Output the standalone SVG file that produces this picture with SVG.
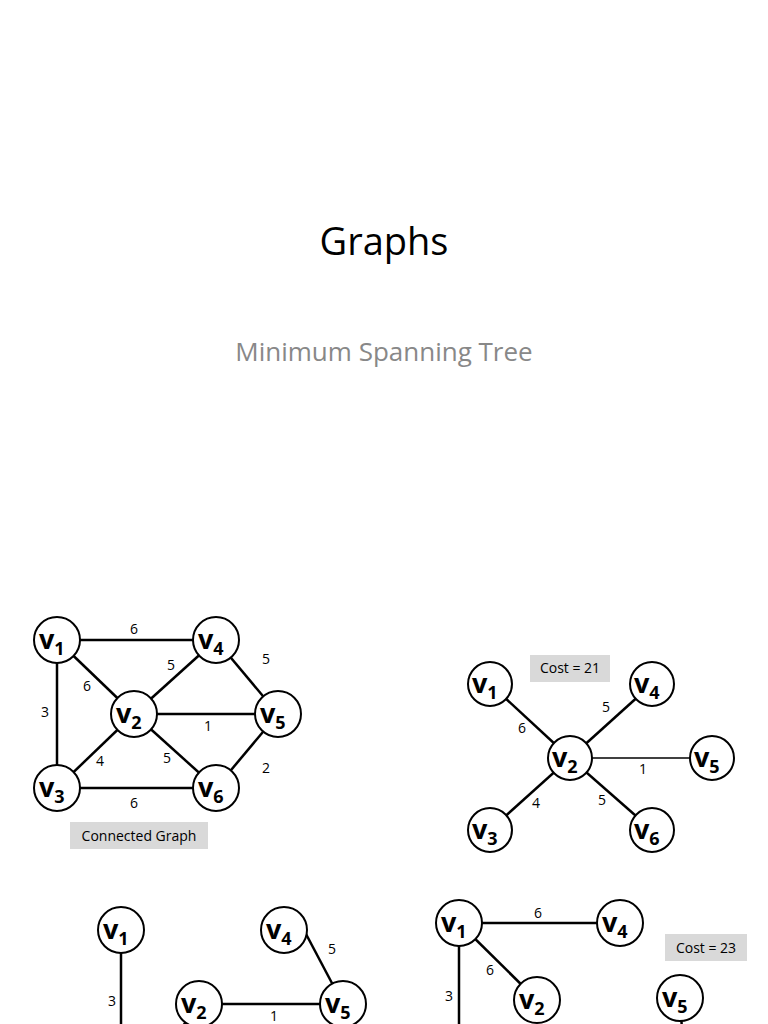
<svg xmlns="http://www.w3.org/2000/svg" width="768" height="1024" viewBox="0 0 768 1024">
<style>
.n circle{fill:#fff;stroke:#000;stroke-width:2}
.v{font-family:"Open Sans","Liberation Sans",sans-serif;font-weight:bold;font-size:27px;fill:#000}
.s{font-size:18px}
.e line{stroke:#000;stroke-width:2.5}
.w{font-family:"Open Sans","Liberation Sans",sans-serif;font-size:14px;fill:#000;text-anchor:middle}
.box{fill:#d9d9d9}
</style>
<rect width="768" height="1024" fill="#fff"/>
<text x="384" y="255" text-anchor="middle" font-family="Open Sans, Liberation Sans, sans-serif" font-size="38" fill="#000">Graphs</text>
<text x="384" y="361" text-anchor="middle" font-family="Open Sans, Liberation Sans, sans-serif" font-size="26" fill="#888">Minimum Spanning Tree</text>
<g class="e" id="connectors">
<line x1="57" y1="640" x2="216" y2="640"/><line x1="57" y1="640" x2="134" y2="714"/><line x1="57" y1="640" x2="57" y2="788"/>
<line x1="216" y1="640" x2="134" y2="714"/><line x1="216" y1="640" x2="278" y2="714"/><line x1="134" y1="714" x2="278" y2="714"/>
<line x1="134" y1="714" x2="57" y2="788"/><line x1="134" y1="714" x2="216" y2="788"/><line x1="57" y1="788" x2="216" y2="788"/><line x1="278" y1="714" x2="216" y2="788"/>
<line x1="490" y1="684" x2="570" y2="758"/><line x1="652" y1="684" x2="570" y2="758"/><line x1="712" y1="758" x2="570" y2="758" style="stroke-width:1.5"/><line x1="490" y1="830" x2="570" y2="758"/><line x1="652" y1="830" x2="570" y2="758"/>
<line x1="121" y1="930" x2="121" y2="1030"/><line x1="199" y1="1004" x2="343" y2="1004"/><line x1="306" y1="934" x2="343" y2="1004"/><line x1="199" y1="1004" x2="180" y2="1030"/>
<line x1="459" y1="923" x2="620" y2="923"/><line x1="459" y1="923" x2="537" y2="1000"/><line x1="459" y1="923" x2="459" y2="1030"/><line x1="680" y1="998" x2="682" y2="1030"/>
</g>
<g class="w">
<text x="134" y="634">6</text><text x="171" y="670">5</text><text x="87" y="691">6</text><text x="266" y="664">5</text><text x="45" y="717">3</text>
<text x="208" y="731">1</text><text x="100" y="766">4</text><text x="167" y="763">5</text><text x="266" y="773">2</text><text x="134" y="808">6</text>
<text x="606" y="712">5</text><text x="522" y="733">6</text><text x="643" y="774">1</text><text x="536" y="808">4</text><text x="602" y="805">5</text>
<text x="112" y="1006">3</text><text x="274" y="1021">1</text><text x="332" y="954">5</text>
<text x="538" y="918">6</text><text x="490" y="975">6</text><text x="449" y="1001">3</text>
</g>
<rect class="box" x="70" y="822" width="138" height="27"/>
<text x="139" y="841" class="w">Connected Graph</text>
<rect class="box" x="530" y="655" width="80" height="27"/>
<text x="570" y="673" class="w">Cost = 21</text>
<rect class="box" x="665" y="934" width="82" height="27"/>
<text x="706" y="953" class="w">Cost = 23</text>
<g class="n" id="g1v1"><circle cx="57" cy="640" r="23"/><text class="v" x="39" y="649">v<tspan class="s" dy="6">1</tspan></text></g>
<g class="n" id="g1v4"><circle cx="216" cy="640" r="23"/><text class="v" x="198" y="649">v<tspan class="s" dy="6">4</tspan></text></g>
<g class="n" id="g1v2"><circle cx="134" cy="714" r="23"/><text class="v" x="116" y="723">v<tspan class="s" dy="6">2</tspan></text></g>
<g class="n" id="g1v5"><circle cx="278" cy="714" r="23"/><text class="v" x="260" y="723">v<tspan class="s" dy="6">5</tspan></text></g>
<g class="n" id="g1v3"><circle cx="57" cy="788" r="23"/><text class="v" x="39" y="797">v<tspan class="s" dy="6">3</tspan></text></g>
<g class="n" id="g1v6"><circle cx="216" cy="788" r="23"/><text class="v" x="198" y="797">v<tspan class="s" dy="6">6</tspan></text></g>
<g class="n" id="g2v1"><circle cx="490" cy="684" r="22"/><text class="v" x="472" y="693">v<tspan class="s" dy="6">1</tspan></text></g>
<g class="n" id="g2v4"><circle cx="652" cy="684" r="22"/><text class="v" x="634" y="693">v<tspan class="s" dy="6">4</tspan></text></g>
<g class="n" id="g2v2"><circle cx="570" cy="758" r="22"/><text class="v" x="552" y="767">v<tspan class="s" dy="6">2</tspan></text></g>
<g class="n" id="g2v5"><circle cx="712" cy="758" r="22"/><text class="v" x="694" y="767">v<tspan class="s" dy="6">5</tspan></text></g>
<g class="n" id="g2v3"><circle cx="490" cy="830" r="22"/><text class="v" x="472" y="839">v<tspan class="s" dy="6">3</tspan></text></g>
<g class="n" id="g2v6"><circle cx="652" cy="830" r="22"/><text class="v" x="634" y="839">v<tspan class="s" dy="6">6</tspan></text></g>
<g class="n" id="g3v1"><circle cx="121" cy="930" r="23"/><text class="v" x="103" y="939">v<tspan class="s" dy="6">1</tspan></text></g>
<g class="n" id="g3v4"><circle cx="284" cy="930" r="23"/><text class="v" x="266" y="939">v<tspan class="s" dy="6">4</tspan></text></g>
<g class="n" id="g3v2"><circle cx="199" cy="1004" r="23"/><text class="v" x="181" y="1013">v<tspan class="s" dy="6">2</tspan></text></g>
<g class="n" id="g3v5"><circle cx="343" cy="1004" r="23"/><text class="v" x="325" y="1013">v<tspan class="s" dy="6">5</tspan></text></g>
<g class="n" id="g4v1"><circle cx="459" cy="923" r="23"/><text class="v" x="441" y="932">v<tspan class="s" dy="6">1</tspan></text></g>
<g class="n" id="g4v4"><circle cx="620" cy="923" r="23"/><text class="v" x="602" y="932">v<tspan class="s" dy="6">4</tspan></text></g>
<g class="n" id="g4v2"><circle cx="537" cy="1000" r="23"/><text class="v" x="519" y="1009">v<tspan class="s" dy="6">2</tspan></text></g>
<g class="n" id="g4v5"><circle cx="680" cy="998" r="23"/><text class="v" x="662" y="1007">v<tspan class="s" dy="6">5</tspan></text></g>
</svg>
